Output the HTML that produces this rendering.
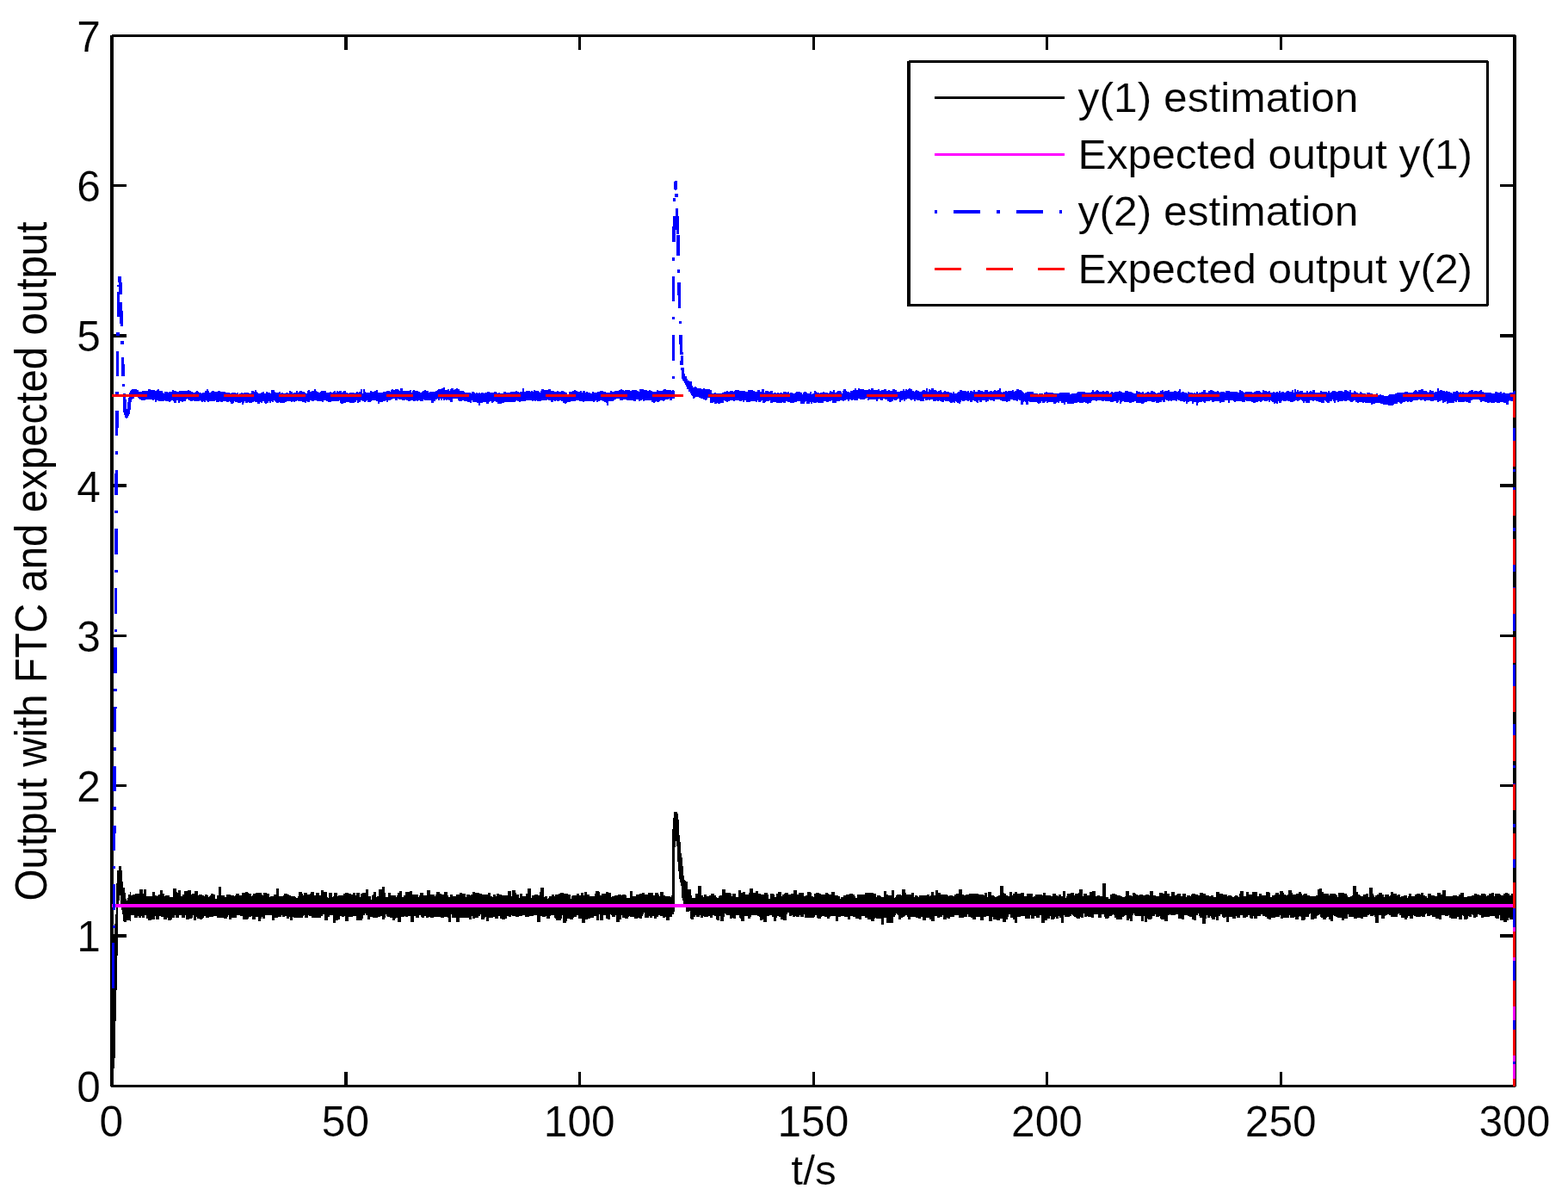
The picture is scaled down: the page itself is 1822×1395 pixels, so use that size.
<!DOCTYPE html>
<html lang="en">
<head>
<meta charset="utf-8">
<title>Output with FTC and expected output</title>
<style>
html,body{margin:0;padding:0;background:#fff;}
body{width:1822px;height:1395px;overflow:hidden;}
svg{display:block;position:absolute;left:0;top:0;}
text{font-family:"Liberation Sans","DejaVu Sans",sans-serif;font-size:49.7px;fill:#000;stroke:#fff;stroke-width:0.2px;}
.yl{stroke:none;}
</style>
</head>
<body>
<svg width="1822" height="1395" viewBox="0 0 1822 1395">
<rect width="1822" height="1395" fill="#fff"/>
<g shape-rendering="crispEdges">
<path fill="#000" d="m128 41h1v1221h-1zm1 0h1v1222h-1zm1-1h2v418h-2zm0 421h1v589h-1zm0 593h1v41h-1zm0 94h2v115h-2zm1-687h1v429h-1zm0 458h1v18h-1zm0 22h1v18h-1zm0 47h1v18h-1zm0 21h1v18h-1zm0 48h1v18h-1zm0 21h1v17h-1zm1-1038h268v3h-268zm0 174h15v3h-15zm0 174h3v4h-3zm0 174h1v4h-1zm0 175h15v3h-15zm0 348h1v10h-1zm0 63h1v93h-1zm0 112h268v3h-268zm1-187h1v2h-1zm0 5h1v151h-1zm1-16h1v124h-1zm1-672h4v2h-4zm0 521h12v3h-12zm0 115h1v24h-1zm0 28h1v96h-1zm1-43h2v39h-2zm0 43h1v56h-1zm1-492h10v4h-10zm0 523h10v4h-10zm1-79h1v40h-1zm1-618h8v4h-8zm0 618h1v34h-1zm1 0h1v44h-1zm1 5h1v39h-1zm0 43h1v3h-1zm1-30h1v26h-1zm0 30h1v8h-1zm1-23h2v19h-2zm0 23h1v16h-1zm1 0h3v17h-3zm1-17h1v13h-1zm1 7h1v6h-1zm1 2h1v4h-1zm0 8h4v15h-4zm1-11h1v7h-1zm1-4h2v11h-2zm2-3h1v14h-1zm0 18h1v16h-1zm1-14h2v10h-2zm0 14h4v9h-4zm2-15h3v11h-3zm2 15h4v12h-4zm1-16h5v12h-5zm3 16h1v10h-1zm1 0h3v12h-3zm1-21h4v17h-4zm2 21h1v10h-1zm1 0h3v12h-3zm1-16h1v12h-1zm1-5h3v17h-3zm1 21h2v9h-2zm2-13h7v9h-7zm0 13h2v13h-2zm2 0h4v15h-4zm4 0h4v14h-4zm1-18h3v14h-3zm3 4h2v10h-2zm0 14h1v10h-1zm1 0h4v14h-4zm1-13h1v9h-1zm1-1h1v10h-1zm1-1h2v11h-2zm1 15h2v10h-2zm1-20h3v16h-3zm1 20h3v11h-3zm2-16h2v12h-2zm1 16h4v14h-4zm1-13h1v9h-1zm1-1h5v10h-5zm2 14h1v12h-1zm1 0h4v15h-4zm2-12h4v8h-4zm2 12h1v14h-1zm1 0h3v12h-3zm1-22h4v18h-4zm2 22h1v9h-1zm1 0h4v12h-4zm1-18h1v14h-1zm1 1h1v13h-1zm1-3h3v16h-3zm1 20h3v9h-3zm2-13h2v9h-2zm1 13h4v12h-4zm1-15h2v11h-2zm2-4h4v15h-4zm1 19h1v9h-1zm1 0h4v14h-4zm2-20h4v16h-4zm2 20h3v13h-3zm2-15h1v11h-1zm1-1h3v12h-3zm0 16h1v12h-1zm1 0h1v9h-1zm1 0h3v15h-3zm1-19h4v15h-4zm2 19h1v11h-1zm1 0h3v13h-3zm1-14h1v10h-1zm1-1h4v11h-4zm1 15h3v14h-3zm3-14h2v10h-2zm0 14h1v13h-1zm1 0h1v12h-1zm1-13h1v9h-1zm0 13h2v10h-2zm1-15h3v11h-3zm1 15h4v12h-4zm2-14h1v10h-1zm1 2h1v8h-1zm1-1h1v9h-1zm0 13h5v11h-5zm1-14h1v10h-1zm1-2h3v12h-3zm3 1h2v11h-2zm0 15h4v10h-4zm2-10h2v6h-2zm2-4h2v10h-2zm0 14h8v12h-8zm2-24h3v20h-3zm3 10h4v10h-4zm3 14h4v13h-4zm1-12h2v8h-2zm2-3h5v11h-5zm1 15h1v11h-1zm1 0h1v9h-1zm1 0h3v14h-3zm2-14h4v10h-4zm1 14h6v12h-6zm3-13h1v9h-1zm1-1h1v10h-1zm1-2h4v12h-4zm1 16h4v9h-4zm3-14h3v10h-3zm1 14h3v10h-3zm2-17h4v13h-4zm1 17h6v14h-6zm3-18h3v14h-3zm3 1h1v13h-1zm0 17h1v13h-1zm1-16h3v12h-3zm0 16h3v11h-3zm3-13h1v9h-1zm0 13h1v10h-1zm1-14h1v10h-1zm0 14h4v14h-4zm1-16h3v12h-3zm3-1h7v13h-7zm0 17h3v11h-3zm3 0h3v16h-3zm3 0h1v13h-1zm1-15h1v11h-1zm0 15h1v11h-1zm1-14h1v10h-1zm0 14h3v13h-3zm1-17h4v13h-4zm2 17h8v9h-8zm2-16h3v12h-3zm3 4h1v8h-1zm1-1h4v9h-4zm2 13h3v15h-3zm2-15h3v11h-3zm1 15h4v12h-4zm2-22h3v18h-3zm2 22h4v11h-4zm1-13h5v9h-5zm3 13h1v9h-1zm1 0h3v11h-3zm1-14h1v10h-1zm1-2h4v12h-4zm1 16h2v10h-2zm2 0h3v13h-3zm1-15h2v11h-2zm2 1h2v10h-2zm0 14h1v11h-1zm1 0h3v15h-3zm1-13h5v9h-5zm2 13h1v11h-1zm1 0h11v12h-11zm2-12h1v8h-1zm1 1h2v7h-2zm2-2h1v9h-1zm1-5h4v14h-4zm4 2h1v12h-1zm1 2h1v10h-1zm0 14h1v10h-1zm1-17h4v13h-4zm0 17h1v9h-1zm1 0h4v12h-4zm3-15h3v11h-3zm1 15h1v9h-1zm1 0h3v10h-3zm1-16h1v12h-1zm1-2h4v14h-4zm1 18h11v12h-11zm3-14h2v10h-2zm2-3h4v13h-4zm4 3h2v10h-2zm2-6h3v16h-3zm0 20h2v10h-2zm2 0h2v8h-2zm1-18h4v14h-4zm1 18h4v15h-4zm3-12h1v8h-1zm1 1h1v7h-1zm0 11h2v11h-2zm1-17h4v13h-4zm1 17h4v9h-4zm3-12h1v8h-1zm1-1h1v9h-1zm0 13h3v18h-3zm1-17h4v13h-4zm2 17h3v15h-3zm2-13h1v9h-1zm1-1h6v10h-6zm0 14h2v14h-2zm2 0h2v10h-2zm2 0h3v11h-3zm2-16h2v12h-2zm1-998h4v18h-4zm0 1014h1v10h-1zm0 191h4v18h-4zm1-208h4v13h-4zm0 17h4v16h-4zm3-1014h268v3h-268zm0 1220h268v3h-268zm1-222h3v12h-3zm0 16h5v11h-5zm3-15h2v11h-2zm2-2h3v13h-3zm0 17h4v10h-4zm3-14h1v10h-1zm1-3h4v13h-4zm0 17h7v15h-7zm4-12h1v8h-1zm1-4h2v12h-2zm2-1h4v13h-4zm0 17h1v13h-1zm1 0h2v9h-2zm2 0h1v7h-1zm1-21h3v17h-3zm0 21h2v9h-2zm2 0h3v14h-3zm1-13h3v9h-3zm2 13h3v11h-3zm1-9h1v5h-1zm1-5h1v10h-1zm1-1h1v11h-1zm0 15h6v12h-6zm1-18h3v14h-3zm3 6h1v8h-1zm1-1h2v9h-2zm1 13h3v11h-3zm1-21h4v17h-4zm2 21h2v10h-2zm2-24h3v20h-3zm0 24h3v14h-3zm3-17h1v13h-1zm0 17h1v12h-1zm1-12h3v8h-3zm0 12h1v8h-1zm1 0h1v10h-1zm1 0h3v11h-3zm1-17h3v13h-3zm2 17h3v12h-3zm1-14h6v10h-6zm2 14h3v15h-3zm3 0h1v13h-1zm1-12h1v8h-1zm0 12h2v12h-2zm1-14h1v10h-1zm1-3h2v13h-2zm0 17h4v17h-4zm2-19h3v15h-3zm2 19h4v11h-4zm1-12h2v8h-2zm2-2h2v10h-2zm1 14h1v10h-1zm1-18h5v14h-5zm0 18h3v11h-3zm3 0h3v10h-3zm2-19h3v15h-3zm1 19h4v17h-4zm2-15h7v11h-7zm2 15h2v10h-2zm2 0h4v12h-4zm3-12h1v8h-1zm1-2h1v10h-1zm0 14h2v9h-2zm1-17h4v13h-4zm1 17h1v11h-1zm1 0h3v12h-3zm2-14h4v10h-4zm1 14h2v10h-2zm2 0h3v12h-3zm1-20h4v16h-4zm2 20h2v11h-2zm2-15h5v11h-5zm0 15h4v12h-4zm4 0h8v11h-8zm1-13h1v9h-1zm1-2h1v11h-1zm1-3h4v14h-4zm4 2h2v12h-2zm1 16h4v12h-4zm1-15h3v11h-3zm3-3h4v14h-4zm0 18h4v11h-4zm4-14h1v10h-1zm0 14h1v12h-1zm1-12h2v8h-2zm0 12h3v17h-3zm2-15h3v11h-3zm1 15h1v8h-1zm1 0h5v12h-5zm1-13h4v9h-4zm4-2h4v11h-4zm0 15h4v17h-4zm4-17h3v13h-3zm0 17h11v12h-11zm3-16h4v12h-4zm4 4h1v8h-1zm1-3h4v11h-4zm3 15h3v14h-3zm1-14h1v10h-1zm1-1h2v11h-2zm1 15h1v10h-1zm1-18h3v14h-3zm0 18h3v13h-3zm3-17h5v13h-5zm0 17h4v12h-4zm4 0h2v10h-2zm1-16h3v12h-3zm1 16h1v8h-1zm1 0h4v14h-4zm1-15h7v11h-7zm3 15h1v12h-1zm1 0h1v11h-1zm1 0h3v16h-3zm2-17h3v13h-3zm1 17h5v12h-5zm2-13h2v9h-2zm2 1h1v8h-1zm1-3h3v11h-3zm0 15h2v11h-2zm2 0h4v13h-4zm1-13h1v9h-1zm1-3h3v12h-3zm2 16h2v10h-2zm1-15h3v11h-3zm1 15h2v13h-2zm2-14h7v10h-7zm0 14h4v14h-4zm4 0h2v13h-2zm2 0h2v10h-2zm1-19h4v15h-4zm1 19h3v11h-3zm3-13h1v9h-1zm0 13h1v9h-1zm1-20h4v16h-4zm0 20h4v10h-4zm4-17h1v13h-1zm0 17h4v11h-4zm1-15h3v11h-3zm3 4h1v7h-1zm0 11h4v10h-4zm1-16h3v12h-3zm3 3h4v9h-4zm0 13h3v9h-3zm3 0h5v11h-5zm1-16h2v12h-2zm2-6h4v18h-4zm2 22h5v10h-5zm2-11h1v7h-1zm1-3h3v10h-3zm2 14h4v9h-4zm1-15h4v11h-4zm3 15h4v17h-4zm1-14h2v10h-2zm2-4h1v14h-1zm1-5h4v19h-4zm0 23h2v10h-2zm2 0h4v11h-4zm2-12h1v8h-1zm1-1h3v9h-3zm1 13h1v10h-1zm1 0h4v13h-4zm1-10h1v6h-1zm1-1h1v7h-1zm1-2h3v9h-3zm1 13h1v10h-1zm1 0h4v9h-4zm1-15h3v11h-3zm3 2h1v9h-1zm0 13h1v12h-1zm1-15h4v11h-4zm0 15h1v13h-1zm1 0h6v15h-6zm3-16h2v12h-2zm2-1h4v13h-4zm1 17h1v13h-1zm1 0h1v9h-1zm1 0h4v18h-4zm1-16h5v12h-5zm3 16h1v16h-1zm1 0h3v13h-3zm1-15h3v11h-3zm2 15h4v14h-4zm1-10h1v6h-1zm1-3h1v9h-1zm1-1h5v10h-5zm1 14h1v12h-1zm1 0h3v11h-3zm3-16h3v12h-3zm0 16h2v9h-2zm2-1014h3v18h-3zm0 1014h4v13h-4zm0 191h3v18h-3zm1-205h2v10h-2zm2-1000h269v3h-269zm0 997h3v13h-3zm0 223h269v3h-269zm1-206h4v18h-4zm2-14h1v10h-1zm1-4h3v14h-3zm1 18h3v14h-3zm2-15h3v11h-3zm1 15h3v13h-3zm2-13h6v9h-6zm1 13h4v12h-4zm4 0h3v10h-3zm1-16h1v12h-1zm1-3h4v15h-4zm1 19h3v15h-3zm3-18h1v14h-1zm0 18h1v8h-1zm1-14h2v10h-2zm0 14h4v15h-4zm2-16h5v12h-5zm2 16h3v9h-3zm3-18h3v14h-3zm0 18h2v13h-2zm2 0h3v14h-3zm1-17h3v13h-3zm2 17h1v8h-1zm1-12h1v8h-1zm0 12h1v9h-1zm1-13h3v9h-3zm0 13h4v11h-4zm3-14h4v10h-4zm1 14h1v9h-1zm1 0h4v17h-4zm2-15h4v11h-4zm2 15h2v14h-2zm2-14h1v10h-1zm0 14h1v9h-1zm1-15h4v11h-4zm0 15h3v12h-3zm3 0h4v13h-4zm1-14h1v10h-1zm1 3h4v7h-4zm2 11h1v11h-1zm1 0h1v10h-1zm1-19h3v15h-3zm0 19h5v11h-5zm3-13h4v9h-4zm2 13h4v13h-4zm2-15h4v11h-4zm2 15h2v12h-2zm2-16h3v12h-3zm0 16h3v13h-3zm3-17h3v13h-3zm0 17h1v10h-1zm1 0h1v8h-1zm1 0h1v6h-1zm1-15h4v11h-4zm0 15h5v12h-5zm4-17h6v13h-6zm1 17h1v10h-1zm1 0h3v12h-3zm3 0h2v10h-2zm1-14h2v10h-2zm1 14h3v13h-3zm1-17h4v13h-4zm2 17h2v11h-2zm2-15h1v11h-1zm0 15h2v9h-2zm1-13h1v9h-1zm1-5h4v14h-4zm0 18h3v10h-3zm3 0h3v12h-3zm1-14h2v10h-2zm2 1h6v9h-6zm0 13h1v11h-1zm1 0h4v15h-4zm4 0h3v11h-3zm1-12h1v8h-1zm1-2h1v10h-1zm1-77h1v87h-1zm0 91h2v8h-2zm1-104h1v100h-1zm1-7h1v107h-1zm0 111h1v5h-1zm1-111h1v41h-1zm1 0h1v34h-1zm1 0h1v40h-1zm1 2h1v56h-1zm1 7h1v60h-1zm1 18h1v51h-1zm1 8h1v47h-1zm1 13h1v38h-1zm1 5h1v47h-1zm1 10h1v40h-1zm1 11h1v33h-1zm1 5h1v28h-1zm1 1h1v27h-1zm1 1h2v26h-2zm0 30h4v5h-4zm2-21h4v17h-4zm2 21h1v4h-1zm1 0h1v13h-1zm1-14h1v10h-1zm0 14h3v14h-3zm1-11h4v7h-4zm2 11h2v11h-2zm2-16h3v12h-3zm0 16h1v9h-1zm1 0h4v11h-4zm2-25h4v21h-4zm2 25h1v9h-1zm1 0h3v12h-3zm1-14h2v10h-2zm2 2h1v8h-1zm0 12h1v10h-1zm1-15h3v11h-3zm0 15h5v11h-5zm3-13h3v9h-3zm2 13h2v10h-2zm1-14h2v10h-2zm1 14h3v12h-3zm1-16h4v12h-4zm2 16h2v9h-2zm2-14h2v10h-2zm0 14h2v10h-2zm2-12h1v8h-1zm0 12h1v14h-1zm1-11h2v7h-2zm0 11h3v15h-3zm2-13h1v9h-1zm1-1h3v10h-3zm0 14h1v10h-1zm1 0h4v16h-4zm2-21h4v17h-4zm2 21h1v11h-1zm1 0h1v7h-1zm1-17h6v13h-6zm0 17h1v8h-1zm1 0h4v9h-4zm4 0h3v13h-3zm1-16h1v12h-1zm1 3h1v9h-1zm1-3h4v12h-4zm0 16h1v12h-1zm1 0h3v13h-3zm3-12h3v8h-3zm0 12h4v9h-4zm3-20h3v16h-3zm1 20h1v12h-1zm1 0h1v13h-1zm1-17h2v13h-2zm0 17h4v16h-4zm2-18h3v14h-3zm2 18h4v10h-4zm1-15h4v11h-4zm3 15h3v13h-3zm1-17h1v13h-1zm1-5h4v18h-4zm1 22h1v11h-1zm1 0h7v9h-7zm2-17h3v13h-3zm3-2h3v15h-3zm2 19h2v10h-2zm1-16h3v12h-3zm1 16h1v11h-1zm1 0h3v15h-3zm1-15h4v11h-4zm2 15h1v14h-1zm1 0h4v17h-4zm1-17h4v13h-4zm3 17h3v10h-3zm1-15h1v11h-1zm1 5h2v6h-2zm1 10h3v9h-3zm1-16h4v12h-4zm2 16h2v11h-2zm2-15h1v11h-1zm0 15h3v16h-3zm1-12h2v8h-2zm2-4h2v12h-2zm0 16h1v12h-1zm1 0h2v10h-2zm1-18h4v14h-4zm1 18h2v11h-2zm2 0h3v14h-3zm1-13h1v9h-1zm1-2h2v11h-2zm1 15h4v15h-4zm1-16h1v12h-1zm1-1h4v13h-4zm2 17h1v8h-1zm1 0h2v6h-2zm1-15h3v11h-3zm1 15h3v10h-3zm2-16h3v12h-3zm1 16h1v9h-1zm1 0h3v11h-3zm1-20h4v16h-4zm2 20h1v10h-1zm1 0h4v11h-4zm1-15h2v11h-2zm2-2h6v13h-6zm1 17h1v9h-1zm1 0h4v11h-4zm4-13h2v9h-2zm0 13h1v8h-1zm1 0h11v12h-11zm1-14h2v10h-2zm2-4h4v14h-4zm4 1h1v13h-1zm1 4h2v9h-2zm1-1001h3v18h-3zm0 1205h3v18h-3zm1-203h1v8h-1zm1-4h2v12h-2zm0 16h1v11h-1zm1-1014h268v3h-268zm0 1014h2v9h-2zm0 206h268v3h-268zm1-223h4v13h-4zm1 17h1v12h-1zm1 0h4v13h-4zm2-16h2v12h-2zm2 1h5v11h-5zm0 15h1v11h-1zm1 0h3v10h-3zm3 0h3v11h-3zm1-17h3v13h-3zm2 17h3v13h-3zm1-16h1v12h-1zm1 1h3v11h-3zm1 15h1v11h-1zm1 0h6v10h-6zm1-18h4v14h-4zm4 4h4v10h-4zm1 14h3v16h-3zm3-13h2v9h-2zm0 13h3v11h-3zm2-10h1v6h-1zm1-2h3v8h-3zm0 12h4v10h-4zm3-14h3v10h-3zm1 14h4v11h-4zm2-15h4v11h-4zm2 15h3v14h-3zm2-16h4v12h-4zm1 16h3v10h-3zm3-15h2v11h-2zm0 15h3v11h-3zm2-13h1v9h-1zm1 2h2v7h-2zm0 11h4v13h-4zm2-15h9v11h-9zm2 15h3v14h-3zm3 0h4v10h-4zm4-17h10v13h-10zm0 17h3v12h-3zm3 0h4v14h-4zm4 0h4v16h-4zm3-16h3v12h-3zm1 16h1v13h-1zm1 0h1v12h-1zm1-12h1v8h-1zm0 12h6v13h-6zm1-14h4v10h-4zm4 1h1v9h-1zm1 1h3v8h-3zm0 12h3v20h-3zm3-19h3v15h-3zm0 19h3v12h-3zm3-15h2v11h-2zm0 15h8v18h-8zm2-14h4v10h-4zm4-6h3v16h-3zm2 20h2v11h-2zm1-11h1v7h-1zm1-1h1v8h-1zm0 12h1v9h-1zm1-14h1v10h-1zm0 14h1v7h-1zm1-15h5v11h-5zm0 15h1v8h-1zm1 0h1v9h-1zm1 0h3v14h-3zm3-14h1v10h-1zm0 14h2v12h-2zm1-21h4v17h-4zm1 21h2v11h-2zm2 0h1v10h-1zm1-17h1v13h-1zm0 17h2v9h-2zm1-15h6v11h-6zm1-968h2v285h-2zm0 983h1v11h-1zm1 0h3v14h-3zm1-984h2v286h-2zm2 0h669v3h-669zm0 283h669v3h-669zm0 701h6v11h-6zm1-17h3v13h-3zm3 5h1v8h-1zm1-2h3v10h-3zm1 14h3v12h-3zm2-13h1v9h-1zm1 1h1v8h-1zm0 12h3v13h-3zm1-14h9v10h-9zm2 14h2v11h-2zm2 0h4v15h-4zm4 0h4v12h-4zm1-15h3v11h-3zm3 2h1v9h-1zm0 13h2v14h-2zm1-14h1v10h-1zm1-4h3v14h-3zm0 18h4v16h-4zm3-14h2v10h-2zm1-928h151v3h-151zm0 942h3v10h-3zm1-20h3v16h-3zm2 20h3v12h-3zm1-17h3v13h-3zm2 17h3v11h-3zm1-15h8v11h-8zm2 15h1v9h-1zm1 0h4v14h-4zm4 0h1v12h-1zm1-14h1v10h-1zm0 14h3v13h-3zm1-13h1v9h-1zm1-1h4v10h-4zm1 14h5v11h-5zm3-13h2v9h-2zm2-2h2v11h-2zm0 15h5v9h-5zm2-16h3v12h-3zm3-5h4v17h-4zm0 21h6v12h-6zm4-15h2v11h-2zm2 1h2v10h-2zm0 14h4v11h-4zm2-15h4v11h-4zm2 15h1v8h-1zm1 0h3v11h-3zm1-16h11v12h-11zm2 16h2v12h-2zm2 0h4v14h-4zm4 0h5v11h-5zm3-15h6v11h-6zm2 15h4v15h-4zm4-14h1v10h-1zm0 14h3v11h-3zm1-17h3v13h-3zm2 17h3v10h-3zm1-12h1v8h-1zm1-6h4v14h-4zm1 18h4v16h-4zm3-14h3v10h-3zm1 14h1v11h-1zm1 0h4v14h-4zm1-13h1v9h-1zm1 1h2v8h-2zm2-1h2v9h-2zm0 13h4v15h-4zm2-14h2v10h-2zm2-11h4v21h-4zm0 25h3v13h-3zm3 0h4v17h-4zm1-17h1v13h-1zm1 1h2v12h-2zm2 2h2v10h-2zm0 14h2v14h-2zm2-13h2v9h-2zm0 13h1v11h-1zm1 0h2v8h-2zm1-18h3v14h-3zm1 18h3v12h-3zm2-14h1v10h-1zm1-2h2v12h-2zm0 16h2v14h-2zm2-18h3v14h-3zm0 18h3v18h-3zm3-16h4v12h-4zm0 16h4v11h-4zm4-17h4v13h-4zm0 17h5v10h-5zm4-13h3v9h-3zm1 13h6v13h-6zm2-16h7v12h-7zm4 16h1v9h-1zm1 0h4v13h-4zm2-12h1v8h-1zm1-1h2v9h-2zm1 13h2v10h-2zm1-15h8v11h-8zm1 15h4v12h-4zm4 0h2v9h-2zm2 0h4v18h-4zm1-14h1v10h-1zm1-3h3v13h-3zm2 17h3v15h-3zm1-1014h3v18h-3zm0 1000h6v10h-6zm0 205h3v18h-3zm2-191h3v13h-3zm1-1014h269v3h-269zm0 1220h269v3h-269zm2-206h1v10h-1zm1-13h2v9h-2zm0 13h4v14h-4zm2-16h4v12h-4zm2 16h1v13h-1zm1 0h1v11h-1zm1-14h2v10h-2zm0 14h3v13h-3zm2-13h1v9h-1zm1-2h3v11h-3zm0 15h1v10h-1zm1 0h2v12h-2zm2-13h2v9h-2zm0 13h3v18h-3zm2-19h3v15h-3zm1 19h1v9h-1zm1 0h6v11h-6zm1-11h1v7h-1zm1-2h1v9h-1zm1-3h4v12h-4zm3 16h2v10h-2zm1-17h4v13h-4zm1 17h1v8h-1zm1 0h1v9h-1zm1 0h1v10h-1zm1-14h1v10h-1zm0 14h2v11h-2zm1-16h4v12h-4zm1 16h1v12h-1zm1 0h4v13h-4zm2-17h1v13h-1zm1-4h4v17h-4zm1 21h1v11h-1zm1 0h3v12h-3zm2-13h1v9h-1zm1-3h4v12h-4zm0 16h1v7h-1zm1 0h3v11h-3zm3-14h3v10h-3zm0 14h1v10h-1zm1 0h4v11h-4zm2-18h3v14h-3zm2 18h3v12h-3zm1-19h4v15h-4zm2 19h5v8h-5zm2-13h2v9h-2zm2-1h3v10h-3zm1 14h4v12h-4zm2-13h3v9h-3zm2 13h3v8h-3zm1-28h4v24h-4zm2 28h1v11h-1zm1 0h4v13h-4zm1-12h3v8h-3zm3 2h2v6h-2zm0 10h1v12h-1zm1 0h3v10h-3zm1-15h2v11h-2zm2-1h4v12h-4zm0 16h1v9h-1zm1 0h1v8h-1zm1 0h1v9h-1zm1 0h2v12h-2zm1-15h2v11h-2zm1 15h7v14h-7zm1-14h4v10h-4zm4 1h2v9h-2zm2 1h3v8h-3zm0 12h2v11h-2zm2 0h1v10h-1zm1-13h1v9h-1zm0 13h2v9h-2zm1-19h4v15h-4zm1 19h3v15h-3zm3-14h3v10h-3zm0 14h1v13h-1zm1 0h3v16h-3zm2-13h1v9h-1zm1-4h3v13h-3zm0 17h1v9h-1zm1 0h1v7h-1zm1 0h1v9h-1zm1-16h1v12h-1zm0 16h7v10h-7zm1-15h2v11h-2zm2 1h2v10h-2zm2-1h4v11h-4zm2 15h3v16h-3zm2-14h3v10h-3zm1 14h1v10h-1zm1 0h3v17h-3zm1-15h4v11h-4zm2 15h1v13h-1zm1 0h4v14h-4zm1-14h1v10h-1zm1-5h4v15h-4zm2 19h1v13h-1zm1 0h3v10h-3zm1-14h3v10h-3zm2 14h1v8h-1zm1-13h4v9h-4zm0 13h4v11h-4zm4-17h4v13h-4zm0 17h1v10h-1zm1 0h1v13h-1zm1 0h4v14h-4zm2-16h2v12h-2zm2-3h3v15h-3zm0 19h4v16h-4zm3-16h3v12h-3zm1 16h2v9h-2zm2-13h2v9h-2zm0 13h1v8h-1zm1 0h6v9h-6zm1-18h4v14h-4zm4 4h2v10h-2zm1 14h3v8h-3zm1-15h1v11h-1zm1-1h4v12h-4zm1 16h4v13h-4zm3-13h2v9h-2zm1 13h3v14h-3zm1-16h4v12h-4zm2 16h4v9h-4zm2-12h1v8h-1zm1-2h4v10h-4zm1 14h2v10h-2zm2 0h3v11h-3zm1-13h1v9h-1zm1-2h1v11h-1zm1-1h4v12h-4zm0 16h2v14h-2zm2 0h3v15h-3zm2-15h3v11h-3zm1 15h2v9h-2zm2-14h2v10h-2zm0 14h1v7h-1zm1 0h1v10h-1zm1-17h4v13h-4zm0 17h3v12h-3zm3 0h4v19h-4zm1-16h3v12h-3zm3 2h4v10h-4zm0 14h1v13h-1zm1 0h1v9h-1zm1 0h3v12h-3zm2-13h2v9h-2zm1 13h1v10h-1zm1-14h3v10h-3zm0 14h1v12h-1zm1 0h4v14h-4zm2-12h3v8h-3zm2 12h1v11h-1zm1-18h4v14h-4zm0 18h3v15h-3zm3 0h2v10h-2zm1-16h4v12h-4zm1 16h2v8h-2zm2 0h1v11h-1zm1-15h5v11h-5zm0 15h3v12h-3zm3 0h1v11h-1zm1 0h3v17h-3zm1-13h1v9h-1zm1-1h4v10h-4zm1 14h4v11h-4zm3-13h1v9h-1zm1 1h2v8h-2zm0 12h4v13h-4zm2-13h1v9h-1zm1-1h3v10h-3zm1 14h1v10h-1zm1 0h4v12h-4zm1-13h1v9h-1zm1 1h1v8h-1zm1-4h1v12h-1zm1-3h4v15h-4zm0 19h3v9h-3zm3 0h4v12h-4zm1-13h3v9h-3zm3-5h3v14h-3zm0 18h2v11h-2zm2 0h2v9h-2zm1-15h4v11h-4zm1 15h1v12h-1zm1 0h3v13h-3zm2-18h6v14h-6zm1 18h1v10h-1zm1 0h4v13h-4zm4-13h2v9h-2zm0 13h4v10h-4zm2-16h3v12h-3zm2 16h2v8h-2zm1-14h5v10h-5zm1 14h3v10h-3zm3 0h2v11h-2zm1-18h4v14h-4zm1 18h2v13h-2zm2 0h3v14h-3zm1-17h1v13h-1zm1 5h2v8h-2zm1 12h5v12h-5zm1-14h3v10h-3zm3-1h1v11h-1zm1-2h4v13h-4zm0 17h5v11h-5zm4-15h1v11h-1zm1-999h3v18h-3zm0 995h4v15h-4zm0 19h1v9h-1zm0 191h3v18h-3zm1-191h3v13h-3zm2-1014h268v3h-268zm0 1220h268v3h-268zm1-223h1v13h-1zm0 17h7v12h-7zm1-15h2v11h-2zm2 1h2v10h-2zm2-1h1v11h-1zm1-5h4v16h-4zm1 20h1v9h-1zm1 0h5v12h-5zm2-17h1v13h-1zm1 2h4v11h-4zm2 15h1v11h-1zm1 0h4v14h-4zm1-16h3v12h-3zm3-2h3v14h-3zm0 18h1v11h-1zm1 0h1v10h-1zm1 0h1v11h-1zm1-16h1v12h-1zm0 16h4v15h-4zm1-14h1v10h-1zm1-1h1v11h-1zm1-1h4v12h-4zm1 16h1v14h-1zm1 0h4v11h-4zm2-14h3v10h-3zm2 14h1v8h-1zm1-13h7v9h-7zm0 13h1v7h-1zm1 0h4v14h-4zm4 0h3v13h-3zm2-14h2v10h-2zm1 14h1v10h-1zm1-21h2v17h-2zm0 21h2v9h-2zm2-22h3v18h-3zm0 22h1v8h-1zm1 0h1v11h-1zm1 0h2v12h-2zm1-18h2v14h-2zm1 18h4v14h-4zm1-16h6v12h-6zm3 16h1v12h-1zm1 0h2v11h-2zm2-14h1v10h-1zm0 14h2v14h-2zm1-16h7v12h-7zm1 16h3v16h-3zm3 0h1v9h-1zm1 0h2v10h-2zm2-15h1v11h-1zm0 15h2v11h-2zm1-14h1v10h-1zm1 2h1v8h-1zm0 12h5v12h-5zm1-17h7v13h-7zm4 17h3v15h-3zm3-16h3v12h-3zm0 16h4v13h-4zm3-14h1v10h-1zm1 2h3v8h-3zm0 12h1v8h-1zm1 0h6v11h-6zm2-13h2v9h-2zm2-1h1v10h-1zm1-11h4v21h-4zm1 25h4v13h-4zm3-18h2v14h-2zm1 18h4v12h-4zm1-15h2v11h-2zm2 1h1v10h-1zm1 1h3v9h-3zm0 13h3v13h-3zm3-15h3v11h-3zm0 15h5v11h-5zm3-16h3v12h-3zm2 16h2v9h-2zm1-12h1v8h-1zm1-11h4v19h-4zm0 23h1v8h-1zm1 0h4v10h-4zm3-16h1v12h-1zm1 2h1v10h-1zm0 14h1v9h-1zm1-12h1v8h-1zm0 12h1v11h-1zm1-14h2v10h-2zm0 14h4v18h-4zm2-15h2v11h-2zm2-2h4v13h-4zm0 17h3v9h-3zm3 0h4v13h-4zm1-15h2v11h-2zm2 3h1v8h-1zm1-3h5v11h-5zm0 15h1v10h-1zm1 0h2v9h-2zm2 0h2v8h-2zm2-13h1v9h-1zm0 13h2v9h-2zm1-14h1v10h-1zm1-4h3v14h-3zm0 18h8v11h-8zm3-16h4v12h-4zm4 2h1v10h-1zm1-1h3v11h-3zm0 15h1v8h-1zm1 0h1v7h-1zm1 0h2v9h-2zm1-12h1v8h-1zm1-1h3v9h-3zm0 13h4v12h-4zm3-14h4v10h-4zm1 14h3v14h-3zm3-11h1v7h-1zm0 11h1v12h-1zm1-13h1v9h-1zm0 13h2v10h-2zm1-16h3v12h-3zm1 16h4v13h-4zm2-13h4v9h-4zm2 13h1v9h-1zm1 0h2v10h-2zm1-15h2v11h-2zm1 15h6v11h-6zm1-16h4v12h-4zm4 1h1v11h-1zm1-2h3v13h-3zm0 17h1v10h-1zm1 0h4v11h-4zm2-14h2v10h-2zm2 1h2v9h-2zm0 13h1v8h-1zm1 0h1v7h-1zm1-11h1v7h-1zm0 11h4v10h-4zm1-16h4v12h-4zm3 16h2v9h-2zm1-14h4v10h-4zm1 14h4v11h-4zm3-13h3v9h-3zm1 13h4v13h-4zm2-17h4v13h-4zm2 17h3v14h-3zm2-15h2v11h-2zm1 15h4v9h-4zm1-20h4v16h-4zm3 20h4v10h-4zm1-13h8v9h-8zm3 13h1v9h-1zm1 0h2v12h-2zm2 0h7v13h-7zm2-14h5v10h-5zm5 1h2v9h-2zm0 13h2v11h-2zm2-15h2v11h-2zm0 15h4v14h-4zm2-17h4v13h-4zm2 17h1v9h-1zm1 0h1v10h-1zm1-12h4v8h-4zm0 12h4v14h-4zm4-13h5v9h-5zm0 13h1v13h-1zm1 0h1v10h-1zm1 0h3v11h-3zm3-14h3v10h-3zm0 14h1v8h-1zm1 0h1v9h-1zm1 0h3v12h-3zm1-16h3v12h-3zm2 16h2v11h-2zm1-15h3v11h-3zm1 15h2v8h-2zm2-14h2v10h-2zm0 14h2v9h-2zm2-16h5v12h-5zm0 16h3v12h-3zm3 0h7v11h-7zm2-15h1v11h-1zm1-969h2v286h-2zm0 971h1v9h-1zm1-1h2v10h-2zm1-969h1v284h-1zm1 967h3v12h-3zm1 16h6v10h-6zm2-17h3v13h-3zm3 4h1v9h-1zm1-3h6v12h-6zm0 16h1v12h-1zm1 0h4v13h-4zm4 0h1v9h-1zm1-840h15v3h-15zm0 174h15v4h-15zm0 174h15v4h-15zm0 175h15v3h-15zm0 174h15v3h-15zm0 128h1v11h-1zm0 15h4v15h-4zm0 31h15v4h-15zm1-45h3v10h-3zm3-2h2v12h-2zm0 16h4v17h-4zm2-17h3v13h-3zm2 17h2v15h-2zm1-16h2v12h-2zm1 16h1v12h-1zm1-14h2v10h-2zm0 14h4v14h-4zm2-16h2v12h-2zm2-998h1v415h-1zm0 445h3v12h-3zm0 57h3v3h-3zm0 6h3v18h-3zm0 51h3v14h-3zm0 18h3v9h-3zm0 47h3v18h-3zm0 69h3v7h-3zm0 37h3v2h-3zm0 57h3v14h-3zm0 57h3v5h-3zm0 8h3v18h-3zm0 49h3v16h-3zm0 20h3v7h-3zm0 47h3v17h-3zm0 254h3v1h-3zm1-1222h2v414h-2zm2 1h1v1221h-1z"/>
<path fill="#f0f" d="m130 1050h1v4h-1zm4 0h1624v4h-1624zm952-872h151v3h-151zm672 899h3v5h-3zm0 35h3v4h-3zm0 57h3v16h-3zm0 57h3v7h-3zm0 10h3v17h-3z"/>
<path fill="#00f" d="m130 1095h3v53h-3zm1-205h4v29h-4zm0 47h4v4h-4zm0 22h3v29h-3zm0 47h3v3h-3zm0 21h3v30h-3zm0 48h3v3h-3zm1-323h4v30h-4zm0 48h4v3h-4zm0 21h3v29h-3zm0 47h3v4h-3zm1-318h1v25h-1zm0 43h4v3h-4zm0 21h4v30h-4zm0 48h4v3h-4zm0 21h3v30h-3zm0 48h3v3h-3zm1-276h4v3h-4zm0 22h3v29h-3zm0 47h3v4h-3zm0 22h3v29h-3zm0 413h1v9h-1zm1-573h4v4h-4zm0 22h3v29h-3zm0 413h1v2h-1zm1-490h2v2h-2zm0 8h2v29h-2zm1-18h1v7h-1zm0 156h1v20h-1zm1-156h1v47h-1zm1 0h2v21h-2zm0 30h1v25h-1zm1 0h2v28h-2zm0 45h4v4h-4zm1-68h1v14h-1zm0 87h3v22h-3zm1-54h1v18h-1zm0 85h3v3h-3zm1 11h3v1h-3zm0 4h1v18h-1zm1-38h1v14h-1zm0 38h1v21h-1zm1 0h1v24h-1zm1 3h1v22h-1zm1 11h1v11h-1zm1-8h1v18h-1zm1-5h1v21h-1zm1-6h1v2h-1zm0 5h1v20h-1zm1-7h1v4h-1zm0 7h1v15h-1zm1-8h1v5h-1zm0 8h1v6h-1zm1-9h6v6h-6zm0 9h1v3h-1zm1 0h2v2h-2zm5-8h2v5h-2zm1 8h1v1h-1zm1-6h4v3h-4zm0 6h1v2h-1zm1 0h2v3h-2zm2 0h5v4h-5zm1-7h6v4h-6zm4 7h2v3h-2zm2-7h1v10h-1zm1-2h3v12h-3zm3 1h2v11h-2zm2 0h2v12h-2zm2 0h1v11h-1zm1 1h2v13h-2zm2-1h1v12h-1zm1-1h1v13h-1zm1 0h1v14h-1zm1 2h4v12h-4zm4 2h1v10h-1zm1 1h1v9h-1zm1-2h1v10h-1zm1 0h3v11h-3zm3 1h1v10h-1zm1-1h2v12h-2zm2 0h1v11h-1zm1 0h1v10h-1zm1-2h2v5h-2zm0 8h1v4h-1zm1 0h1v5h-1zm1-7h3v4h-3zm0 7h3v7h-3zm3-6h3v3h-3zm0 6h2v4h-2zm2 0h2v7h-2zm1-7h10v4h-10zm1 7h2v5h-2zm2 0h2v6h-2zm2 0h3v5h-3zm3 0h1v3h-1zm1 0h1v2h-1zm1-8h2v5h-2zm0 8h1v3h-1zm1 0h2v4h-2zm1-7h2v4h-2zm1 7h3v5h-3zm1-6h2v3h-2zm2 1h3v2h-3zm0 5h1v4h-1zm1 0h6v5h-6zm2-6h1v3h-1zm1-1h2v4h-2zm2 1h1v3h-1zm1 1h1v10h-1zm1 0h1v9h-1zm1 0h1v10h-1zm1 1h1v10h-1zm1-1h1v11h-1zm1 0h1v10h-1zm1 0h1v11h-1zm1-2h1v13h-1zm1 0h1v11h-1zm1-2h1v14h-1zm1 0h1v15h-1zm1 2h1v13h-1zm1 2h2v10h-2zm2-1h1v11h-1zm1-1h3v12h-3zm3 1h1v11h-1zm1 0h1v10h-1zm1 0h2v12h-2zm2-1h2v13h-2zm2 0h1v12h-1zm1 1h3v12h-3zm3 0h1v11h-1zm1 0h2v3h-2zm0 6h3v5h-3zm2-5h5v2h-5zm1 5h3v6h-3zm3 0h1v5h-1zm1-4h2v1h-2zm0 4h1v6h-1zm1 0h3v8h-3zm1-5h5v2h-5zm2 5h1v7h-1zm1 0h1v5h-1zm1 0h3v6h-3zm1-4h1v1h-1zm1-1h2v2h-2zm1 5h4v7h-4zm2-4h2v1h-2zm2-1h2v2h-2zm0 5h1v6h-1zm1 0h2v9h-2zm1-4h1v1h-1zm1-1h6v2h-6zm0 5h1v7h-1zm1 0h1v5h-1zm1 0h3v7h-3zm3 0h1v6h-1zm1-4h3v1h-3zm0 4h4v7h-4zm3-7h3v4h-3zm1 7h2v6h-2zm2-6h1v11h-1zm1-2h2v14h-2zm2 2h1v12h-1zm1 1h1v13h-1zm1 1h2v12h-2zm2 0h1v10h-1zm1-1h2v12h-2zm2-1h2v11h-2zm2 2h1v11h-1zm1 0h1v12h-1zm1-2h1v14h-1zm1 0h1v13h-1zm1 1h1v12h-1zm1 0h1v10h-1zm1 0h1v12h-1zm1 1h1v11h-1zm1-4h1v13h-1zm1 0h2v14h-2zm2 0h1v12h-1zm1 2h1v11h-1zm1 1h1v11h-1zm1 0h3v12h-3zm3-1h2v3h-2zm0 6h1v6h-1zm1 0h6v7h-6zm1-4h1v1h-1zm1-1h2v2h-2zm2 1h3v1h-3zm2 4h2v6h-2zm1-5h3v2h-3zm1 5h5v5h-5zm2-4h1v1h-1zm1-3h2v4h-2zm2 1h2v3h-2zm0 6h2v6h-2zm2-4h1v1h-1zm0 4h1v5h-1zm1-5h3v2h-3zm0 5h2v6h-2zm2 0h2v5h-2zm1-7h2v4h-2zm1 7h1v4h-1zm1-5h1v2h-1zm0 5h5v5h-5zm1-6h1v3h-1zm1-1h3v4h-3zm3 1h3v3h-3zm0 6h3v6h-3zm3-5h1v2h-1zm0 5h1v7h-1zm1-4h1v11h-1zm1 0h1v9h-1zm1-3h1v13h-1zm1-1h2v14h-2zm2 2h2v10h-2zm2-1h3v12h-3zm3-2h2v13h-2zm2 2h1v11h-1zm1 1h2v11h-2zm2 1h2v10h-2zm2-1h1v11h-1zm1-1h1v12h-1zm1 0h2v13h-2zm2 0h3v11h-3zm3 2h2v10h-2zm2 0h2v11h-2zm2-1h1v12h-1zm1 0h1v3h-1zm0 6h1v6h-1zm1-5h2v2h-2zm0 5h9v5h-9zm2-6h1v3h-1zm1-1h2v4h-2zm2 2h1v2h-1zm1-2h2v4h-2zm2 1h1v3h-1zm1-1h3v4h-3zm0 7h1v4h-1zm1 0h1v7h-1zm1 0h3v8h-3zm1-5h1v2h-1zm1-1h1v3h-1zm1-1h3v4h-3zm0 7h3v7h-3zm3-5h2v2h-2zm0 5h4v6h-4zm2-4h2v1h-2zm2-1h6v2h-6zm0 5h6v7h-6zm6-4h1v1h-1zm0 4h2v6h-2zm1-5h1v2h-1zm1-1h2v3h-2zm0 6h1v4h-1zm1 0h2v7h-2zm1-5h1v2h-1zm1-1h2v3h-2zm0 6h2v6h-2zm2-9h1v6h-1zm0 9h1v4h-1zm1-9h1v13h-1zm1 5h1v9h-1zm1-5h1v14h-1zm1 0h1v15h-1zm1 3h1v12h-1zm1 1h1v10h-1zm1 0h1v9h-1zm1 0h3v11h-3zm3-2h1v13h-1zm1 0h1v12h-1zm1 1h3v10h-3zm3-1h2v11h-2zm2-1h2v13h-2zm2 3h2v13h-2zm2 0h4v11h-4zm4-1h3v11h-3zm3 0h1v10h-1zm1-1h4v4h-4zm0 7h2v6h-2zm2 0h3v4h-3zm2-6h1v3h-1zm1-2h1v5h-1zm0 8h2v3h-2zm1-9h2v6h-2zm1 9h3v2h-3zm1-8h2v5h-2zm2-1h4v6h-4zm0 9h3v4h-3zm3 0h1v2h-1zm1-8h1v5h-1zm0 8h4v3h-4zm1-7h1v4h-1zm1-3h3v7h-3zm2 10h4v4h-4zm1-7h8v4h-8zm3 7h1v3h-1zm1 0h2v4h-2zm2 0h3v5h-3zm2-8h2v5h-2zm1 8h3v4h-3zm1-5h1v2h-1zm1-2h1v4h-1zm1-1h2v13h-2zm2 1h1v12h-1zm1 0h1v11h-1zm1 0h2v12h-2zm2 1h2v10h-2zm2 1h2v10h-2zm2-1h1v11h-1zm1-1h1v12h-1zm1 0h1v10h-1zm1-1h2v12h-2zm2 1h3v11h-3zm3 2h1v9h-1zm1-1h2v10h-2zm2 0h3v13h-3zm3 0h2v11h-2zm2-1h2v10h-2zm2-1h1v10h-1zm1-1h4v6h-4zm0 9h2v4h-2zm2 0h1v2h-1zm1 0h2v4h-2zm1-10h2v7h-2zm1 10h1v2h-1zm1-11h2v8h-2zm0 11h2v4h-2zm2-8h3v5h-3zm0 8h1v3h-1zm1 0h2v4h-2zm2-9h2v6h-2zm0 9h1v3h-1zm1 0h2v4h-2zm1-7h1v4h-1zm1-2h1v6h-1zm0 9h3v6h-3zm1-10h3v7h-3zm2 10h6v2h-6zm1-8h1v5h-1zm1-1h2v6h-2zm2-1h2v7h-2zm2 1h2v6h-2zm0 9h1v4h-1zm1 0h4v5h-4zm1-7h5v4h-5zm3 7h2v4h-2zm2-6h1v3h-1zm0 6h4v5h-4zm1-5h5v2h-5zm3 5h2v6h-2zm2-5h1v11h-1zm1 0h1v12h-1zm1 1h1v11h-1zm1-2h1v10h-1zm1 0h2v12h-2zm2 1h1v11h-1zm1 1h1v10h-1zm1-1h1v11h-1zm1 0h1v12h-1zm1 1h1v11h-1zm1-1h2v15h-2zm2 1h1v11h-1zm1-1h2v12h-2zm2 0h1v11h-1zm1 1h1v10h-1zm1-1h2v11h-2zm2 0h1v13h-1zm1-1h2v14h-2zm2 0h1v12h-1zm1 1h2v10h-2zm2 0h2v12h-2zm2 0h1v11h-1zm1-1h3v3h-3zm0 6h2v5h-2zm2 0h2v6h-2zm1-5h1v2h-1zm1 1h1v1h-1zm0 4h5v8h-5zm1-5h2v2h-2zm2 1h4v1h-4zm2 4h3v7h-3zm2-6h3v3h-3zm1 6h13v6h-13zm2-5h5v2h-5zm5-1h6v3h-6zm6-1h2v4h-2zm0 7h1v5h-1zm1 0h1v4h-1zm1-6h2v3h-2zm0 6h2v5h-2zm2-5h1v2h-1zm0 5h2v6h-2zm1-6h1v3h-1zm1 0h2v11h-2zm2-4h2v15h-2zm2 4h2v11h-2zm2-1h5v11h-5zm5 1h1v10h-1zm1-1h1v11h-1zm1 0h1v12h-1zm1 1h1v11h-1zm1-2h1v12h-1zm1 0h1v13h-1zm1 1h1v12h-1zm1 0h1v11h-1zm1 0h2v12h-2zm2 1h1v11h-1zm1 1h1v10h-1zm1-2h1v12h-1zm1-2h3v13h-3zm3 1h2v12h-2zm2 0h3v5h-3zm0 8h2v4h-2zm2 0h1v3h-1zm1-9h3v6h-3zm0 9h3v4h-3zm3-7h4v4h-4zm0 7h3v6h-3zm3 0h1v4h-1zm1-6h3v3h-3zm0 6h2v5h-2zm2 0h1v4h-1zm1-7h2v4h-2zm0 7h3v5h-3zm2-6h3v3h-3zm1 6h2v4h-2zm2-7h3v4h-3zm0 7h2v5h-2zm2 0h2v7h-2zm1-6h2v3h-2zm1 6h2v8h-2zm1-5h2v2h-2zm1 5h1v7h-1zm1 0h4v6h-4zm2-6h4v3h-4zm2 6h6v5h-6zm2-7h2v4h-2zm2-1h2v5h-2zm2 1h2v11h-2zm2 1h2v10h-2zm2 0h1v11h-1zm1-1h2v12h-2zm2 2h1v10h-1zm1-2h2v13h-2zm2 0h1v12h-1zm1 2h1v10h-1zm1-1h2v11h-2zm2 1h3v10h-3zm3 1h2v9h-2zm2-2h1v11h-1zm1 0h1v12h-1zm1 1h1v11h-1zm1 0h1v10h-1zm1 0h1v9h-1zm1 0h1v11h-1zm1-1h1v12h-1zm1 0h2v11h-2zm2-1h1v11h-1zm1 0h3v4h-3zm0 7h2v4h-2zm2 0h2v5h-2zm1-6h3v3h-3zm1 6h2v6h-2zm2-5h5v2h-5zm0 5h1v7h-1zm1 0h2v10h-2zm2 0h6v5h-6zm2-7h2v4h-2zm2 1h3v3h-3zm2 6h1v4h-1zm1-7h5v4h-5zm0 7h2v3h-2zm2 0h4v2h-4zm3-8h2v5h-2zm1 8h4v4h-4zm1-9h2v6h-2zm2 1h2v5h-2zm1 8h4v3h-4zm1-7h1v4h-1zm1-1h3v5h-3zm2 8h1v4h-1zm1-8h3v12h-3zm3 1h2v11h-2zm2-1h2v12h-2zm2 0h3v13h-3zm3 0h1v11h-1zm1 1h2v10h-2zm2 1h1v11h-1zm1-3h1v14h-1zm1 0h2v13h-2zm2 0h1v12h-1zm1 0h1v14h-1zm1 1h1v13h-1zm1 0h3v12h-3zm3 1h2v11h-2zm2-1h2v12h-2zm2 1h1v11h-1zm1 0h1v13h-1zm1 1h5v3h-5zm0 6h1v6h-1zm1 0h2v7h-2zm2 0h1v6h-1zm1 0h1v5h-1zm1-8h2v5h-2zm0 8h3v6h-3zm2-7h5v4h-5zm1 7h1v5h-1zm1 0h3v4h-3zm3-8h1v5h-1zm0 8h2v5h-2zm1-9h3v6h-3zm1 9h1v4h-1zm1 0h4v3h-4zm1-8h6v5h-6zm3 8h1v2h-1zm1 0h3v4h-3zm2-7h1v4h-1zm1-191h1v18h-1zm0 36h3v4h-3zm0 22h3v29h-3zm0 47h3v3h-3zm0 21h3v30h-3zm0 48h3v3h-3zm0 16h2v5h-2zm0 8h3v2h-3zm1-231h3v4h-3zm0 21h3v30h-3zm1-40h1v9h-1zm0 243h1v4h-1zm1-244h2v11h-2zm0 15h4v4h-4zm1 17h1v25h-1zm1-32h1v10h-1zm0 32h2v30h-2zm0 31h4v24h-4zm1 40h3v4h-3zm0 15h1v15h-1zm1-77h1v21h-1zm0 77h3v30h-3zm1 45h3v3h-3zm0 16h1v11h-1zm1 0h3v23h-3zm0 30h1v5h-1zm1-6h3v11h-3zm0 14h1v3h-1zm1 0h1v13h-1zm1-18h1v3h-1zm0 18h1v15h-1zm1 0h1v16h-1zm1 7h1v11h-1zm1 3h1v10h-1zm1 0h1v12h-1zm1 3h1v12h-1zm1 2h1v10h-1zm1 0h1v13h-1zm1 1h1v12h-1zm1 0h1v14h-1zm1 0h1v16h-1zm1 5h1v12h-1zm1 2h2v13h-2zm2-1h1v13h-1zm1 0h1v12h-1zm1 1h1v11h-1zm1 1h2v10h-2zm2 0h2v11h-2zm2 0h1v12h-1zm1 1h2v11h-2zm2-1h2v13h-2zm2 1h2v13h-2zm2 0h1v12h-1zm1 0h1v10h-1zm1 0h2v6h-2zm0 9h2v1h-2zm2-8h2v5h-2zm0 8h4v7h-4zm2-4h3v1h-3zm2 4h1v6h-1zm1-5h2v2h-2zm0 5h3v8h-3zm2-4h7v1h-7zm1 4h1v7h-1zm1 0h3v8h-3zm3 0h4v7h-4zm2-5h2v2h-2zm2-1h3v3h-3zm0 6h1v4h-1zm1 0h2v5h-2zm2-7h2v4h-2zm0 7h2v6h-2zm2-6h2v3h-2zm0 6h2v5h-2zm2-7h4v4h-4zm0 7h4v4h-4zm4-6h1v3h-1zm0 6h2v5h-2zm1-7h1v4h-1zm1-1h5v12h-5zm5 1h3v12h-3zm3 0h1v11h-1zm1 0h2v13h-2zm2 0h1v11h-1zm1 1h1v10h-1zm1 0h2v12h-2zm2-2h3v14h-3zm3 0h3v13h-3zm3 1h2v12h-2zm2 1h1v11h-1zm1 0h2v12h-2zm2-2h1v12h-1zm1 0h2v14h-2zm2 2h2v3h-2zm0 6h1v6h-1zm1 0h1v5h-1zm1-9h3v6h-3zm0 9h1v4h-1zm1 0h3v7h-3zm2-5h1v2h-1zm1-2h4v4h-4zm0 7h1v6h-1zm1 0h4v5h-4zm3-6h2v3h-2zm1 6h1v4h-1zm1-7h3v4h-3zm0 7h3v7h-3zm3-4h1v1h-1zm0 4h4v6h-4zm1-5h3v2h-3zm3 1h1v1h-1zm0 4h7v7h-7zm1-5h2v2h-2zm2 1h1v1h-1zm1-1h3v2h-3zm3 1h1v1h-1zm0 4h1v6h-1zm1-6h4v3h-4zm0 6h3v7h-3zm3 0h2v5h-2zm1-5h1v2h-1zm1-1h2v3h-2zm0 6h3v6h-3zm2-4h1v1h-1zm1-1h3v12h-3zm3 1h2v11h-2zm2 0h1v10h-1zm1-1h1v11h-1zm1-1h1v12h-1zm1 0h4v11h-4zm4 1h2v13h-2zm2 2h1v11h-1zm1-2h1v13h-1zm1-1h1v14h-1zm1 0h1v12h-1zm1 0h1v11h-1zm1 1h1v13h-1zm1 1h3v12h-3zm3-2h1v12h-1zm1 0h1v14h-1zm1 3h1v11h-1zm1-1h1v10h-1zm1 0h1v11h-1zm1-3h1v14h-1zm1 0h1v4h-1zm0 7h2v7h-2zm1-6h1v3h-1zm1 1h3v2h-3zm0 5h1v6h-1zm1 0h7v7h-7zm2-4h1v1h-1zm1-1h3v2h-3zm3-1h2v3h-2zm1 6h3v5h-3zm1-5h4v2h-4zm2 5h3v6h-3zm2-4h1v1h-1zm1-1h1v2h-1zm0 5h3v5h-3zm1-7h2v4h-2zm2 1h2v3h-2zm0 6h1v4h-1zm1 0h5v7h-5zm1-8h2v5h-2zm2 3h2v2h-2zm2-1h1v3h-1zm0 6h4v5h-4zm1-7h4v4h-4zm3 7h2v4h-2zm1-6h1v3h-1zm1 2h1v8h-1zm1-3h1v12h-1zm1-2h1v14h-1zm1 0h2v13h-2zm2 2h1v10h-1zm1 1h1v9h-1zm1 0h2v11h-2zm2 1h1v8h-1zm1-2h1v10h-1zm1 0h2v11h-2zm2-1h1v11h-1zm1 0h1v12h-1zm1-2h2v14h-2zm2 2h2v12h-2zm2-2h2v12h-2zm2 1h5v12h-5zm5 1h1v11h-1zm1 0h2v10h-2zm2 0h2v5h-2zm0 8h1v1h-1zm1 0h2v4h-2zm1-9h2v6h-2zm1 9h8v3h-8zm1-8h1v5h-1zm1-2h3v7h-3zm3 2h5v5h-5zm3 8h2v5h-2zm2-9h2v6h-2zm0 9h1v3h-1zm1 0h1v2h-1zm1-7h2v4h-2zm0 7h1v3h-1zm1 0h3v4h-3zm1-8h3v5h-3zm2 8h2v2h-2zm1-9h3v6h-3zm1 9h3v3h-3zm2-7h2v4h-2zm1 7h2v5h-2zm1-8h2v5h-2zm1 8h3v6h-3zm1-7h3v4h-3zm2 7h2v5h-2zm1-9h3v6h-3zm1 9h1v3h-1zm1 0h3v4h-3zm1-8h2v5h-2zm2 2h1v3h-1zm0 6h1v3h-1zm1-6h2v8h-2zm2 0h1v12h-1zm1-1h1v13h-1zm1 0h2v11h-2zm2-2h1v12h-1zm1 0h1v14h-1zm1 2h1v12h-1zm1-2h2v12h-2zm2 1h1v10h-1zm1-1h1v11h-1zm1-1h1v12h-1zm1 0h1v13h-1zm1 1h2v13h-2zm2 2h2v10h-2zm2 1h1v11h-1zm1-1h1v12h-1zm1-1h1v11h-1zm1 0h1v12h-1zm1 1h2v11h-2zm2 1h1v10h-1zm1 0h2v11h-2zm2-1h1v12h-1zm1-1h3v5h-3zm0 8h2v5h-2zm2 0h1v2h-1zm1-7h1v4h-1zm0 7h3v4h-3zm1-10h2v7h-2zm2 4h1v3h-1zm0 6h1v3h-1zm1-9h2v6h-2zm0 9h2v4h-2zm2-8h1v5h-1zm0 8h3v3h-3zm1-10h3v7h-3zm2 10h4v5h-4zm1-8h3v5h-3zm1-209h3v4h-3zm2 210h1v4h-1zm0 7h1v4h-1zm1-6h1v3h-1zm0 6h2v5h-2zm1-7h2v4h-2zm1 7h1v4h-1zm1-8h2v5h-2zm0 8h2v5h-2zm2-6h1v3h-1zm0 6h3v6h-3zm1-5h1v2h-1zm1-1h1v3h-1zm1-1h2v4h-2zm0 7h1v4h-1zm1 0h5v5h-5zm1-6h4v3h-4zm4 1h1v11h-1zm1 0h2v12h-2zm2 1h1v11h-1zm1-2h1v12h-1zm1-211h31v4h-31zm0 211h1v13h-1zm1 2h1v11h-1zm1 0h1v9h-1zm1 0h1v10h-1zm1-1h1v12h-1zm1-1h1v13h-1zm1 0h1v14h-1zm1-2h1v16h-1zm1 0h1v14h-1zm1 0h1v12h-1zm1 1h3v12h-3zm3 0h2v11h-2zm2 1h1v10h-1zm1-1h2v12h-2zm2 2h1v9h-1zm1-2h3v13h-3zm3 1h1v10h-1zm1-2h1v12h-1zm1 0h1v5h-1zm0 8h2v5h-2zm1-6h3v3h-3zm1 6h1v6h-1zm1 0h2v7h-2zm1-8h3v5h-3zm1 8h1v4h-1zm1 0h3v6h-3zm1-7h3v4h-3zm2 7h4v4h-4zm1-6h2v3h-2zm2-2h4v5h-4zm1 8h2v6h-2zm2 0h2v5h-2zm1-6h2v3h-2zm1 6h1v3h-1zm1-7h3v4h-3zm0 7h4v4h-4zm3-6h1v3h-1zm1-1h1v4h-1zm0 7h2v5h-2zm1-8h2v5h-2zm1 8h6v3h-6zm1-7h2v4h-2zm1-210h4v4h-4zm1 209h2v5h-2zm2-2h2v7h-2zm1 10h2v4h-2zm1-6h1v3h-1zm1 1h1v2h-1zm0 5h4v5h-4zm1-6h3v3h-3zm3-1h1v12h-1zm1 0h1v13h-1zm1 1h1v12h-1zm1-1h3v12h-3zm3 0h2v10h-2zm2-1h1v11h-1zm1 0h1v12h-1zm1 2h1v10h-1zm1-1h2v11h-2zm2-210h31v4h-31zm0 208h2v14h-2zm2 0h1v12h-1zm1 1h2v12h-2zm2 0h1v17h-1zm1 1h1v16h-1zm1 1h1v15h-1zm1 1h1v11h-1zm1 1h1v9h-1zm1-1h1v11h-1zm1 0h1v14h-1zm1-1h2v15h-2zm2 0h1v11h-1zm1 0h1v12h-1zm1 0h4v3h-4zm0 6h8v6h-8zm4-4h5v1h-5zm4 4h1v7h-1zm1 0h2v8h-2zm1-4h5v1h-5zm1 4h2v7h-2zm2 0h1v5h-1zm1 0h3v7h-3zm2-5h2v2h-2zm1 5h1v6h-1zm1-6h2v3h-2zm0 6h1v5h-1zm1 0h2v7h-2zm1-5h7v2h-7zm1 5h6v6h-6zm6-4h4v1h-4zm0 4h3v8h-3zm3 0h1v7h-1zm1-4h1v10h-1zm1 0h2v11h-2zm2-213h3v4h-3zm0 212h2v10h-2zm2 0h3v12h-3zm3 0h2v14h-2zm2 0h2v11h-2zm2 0h3v13h-3zm3 2h2v11h-2zm2-1h3v12h-3zm3 0h3v11h-3zm3-1h1v12h-1zm1-1h2v12h-2zm2 0h3v13h-3zm3 0h4v3h-4zm0 6h2v7h-2zm2 0h2v6h-2zm2-5h7v2h-7zm0 5h2v7h-2zm2 0h2v8h-2zm2 0h3v7h-3zm3-6h1v3h-1zm0 6h1v5h-1zm1-8h2v5h-2zm0 8h4v4h-4zm2-6h2v3h-2zm2-1h1v4h-1zm0 7h2v5h-2zm1-8h2v5h-2zm1 8h5v4h-5zm1-7h1v4h-1zm1 1h4v3h-4zm3 6h3v5h-3zm1-7h2v4h-2zm2 1h2v3h-2zm0 6h1v4h-1zm1 0h6v5h-6zm1-7h3v4h-3zm3 1h1v3h-1zm1 2h1v1h-1zm1-1h1v2h-1zm0 5h2v6h-2zm1-6h1v3h-1zm1 0h1v12h-1zm1 1h1v11h-1zm1 0h1v10h-1zm1-1h2v11h-2zm2 0h2v13h-2zm2 0h1v12h-1zm1-1h1v11h-1zm1 0h1v15h-1zm1 1h1v14h-1zm1 0h1v12h-1zm1 1h2v10h-2zm2 0h1v11h-1zm1-2h4v13h-4zm4 1h1v12h-1zm1 0h3v13h-3zm3 1h2v11h-2zm2 1h1v10h-1zm1 0h2v9h-2zm2-3h1v14h-1zm1 0h1v4h-1zm0 7h5v7h-5zm1-6h3v3h-3zm3 1h2v2h-2zm1 5h3v8h-3zm1-6h2v3h-2zm2 2h2v1h-2zm0 4h1v7h-1zm1 0h3v6h-3zm1-5h2v2h-2zm2-1h2v3h-2zm0 6h5v5h-5zm2-5h2v2h-2zm2-2h3v4h-3zm1 7h4v6h-4zm2-6h2v3h-2zm2 1h1v2h-1zm0 5h1v5h-1zm1-4h2v1h-2zm0 4h4v7h-4zm2-5h3v2h-3zm2 5h3v6h-3zm1-7h2v4h-2zm2-1h2v5h-2zm0 8h1v4h-1zm1 0h1v6h-1zm1-6h1v12h-1zm1-1h1v13h-1zm1 0h1v10h-1zm1 0h2v11h-2zm2-1h2v13h-2zm2 2h1v10h-1zm1 0h2v11h-2zm2 0h2v10h-2zm2-1h2v11h-2zm2 0h1v12h-1zm1 1h1v11h-1zm1 0h1v9h-1zm1-1h1v11h-1zm1-2h1v13h-1zm1 0h1v14h-1zm1 4h1v10h-1zm1-1h2v11h-2zm2 0h1v12h-1zm1 1h1v11h-1zm1 0h1v10h-1zm1 0h1v13h-1zm1 1h1v12h-1zm1-2h1v12h-1zm1 0h1v3h-1zm0 6h1v6h-1zm1-5h4v2h-4zm0 5h3v5h-3zm3 0h2v8h-2zm1-4h1v1h-1zm1-1h2v2h-2zm0 5h3v6h-3zm2-4h1v1h-1zm1-2h2v3h-2zm0 6h2v10h-2zm2-4h1v1h-1zm0 4h1v7h-1zm1-5h3v2h-3zm0 5h4v6h-4zm3-6h2v3h-2zm1 6h1v5h-1zm1-8h3v5h-3zm0 8h1v6h-1zm1 0h2v7h-2zm2-5h3v2h-3zm0 5h5v5h-5zm3-7h2v4h-2zm2-1h3v5h-3zm0 8h2v4h-2zm2 0h3v6h-3zm1-7h2v4h-2zm2 1h3v3h-3zm0 6h6v5h-6zm3-7h2v4h-2zm2 1h1v3h-1zm1 1h1v12h-1zm1-1h1v13h-1zm1 0h4v12h-4zm4 1h1v9h-1zm1-2h3v11h-3zm3 0h2v14h-2zm2 1h4v10h-4zm4 0h1v11h-1zm1 0h2v12h-2zm2 0h2v11h-2zm2 1h2v10h-2zm2-3h2v13h-2zm2 1h1v12h-1zm1 0h1v13h-1zm1 1h1v12h-1zm1 1h1v11h-1zm1 0h1v2h-1zm0 5h1v6h-1zm1-6h8v3h-8zm0 6h1v4h-1zm1 0h6v5h-6zm6 0h2v6h-2zm1-5h2v2h-2zm1 5h3v7h-3zm1-6h2v3h-2zm2-1h5v4h-5zm0 7h3v6h-3zm3 0h2v5h-2zm2-6h1v3h-1zm0 6h2v6h-2zm1-5h2v2h-2zm1 5h1v5h-1zm1-8h2v5h-2zm0 8h2v4h-2zm2-7h3v4h-3zm0 7h4v5h-4zm3-6h2v3h-2zm1 6h1v4h-1zm1-7h2v4h-2zm0 7h2v6h-2zm2-5h1v2h-1zm0 5h1v4h-1zm1-5h1v10h-1zm1 0h1v11h-1zm1-1h1v12h-1zm1 0h1v14h-1zm1 1h1v13h-1zm1 0h1v12h-1zm1-1h2v14h-2zm2 1h1v10h-1zm1-2h2v14h-2zm2 2h1v12h-1zm1-1h1v11h-1zm1 0h1v10h-1zm1 0h1v11h-1zm1 1h2v10h-2zm2-1h1v11h-1zm1-1h1v11h-1zm1 0h2v12h-2zm2 1h1v11h-1zm1 0h2v12h-2zm2-2h2v14h-2zm2 3h1v10h-1zm1-4h1v14h-1zm1 0h1v13h-1zm1 3h1v3h-1zm0 6h1v4h-1zm1-8h2v5h-2zm0 8h2v5h-2zm2-6h1v3h-1zm0 6h2v4h-2zm1-7h4v4h-4zm1 7h1v3h-1zm1 0h1v4h-1zm1 0h1v5h-1zm1-5h4v2h-4zm0 5h2v7h-2zm2 0h1v5h-1zm1 0h5v7h-5zm1-7h2v4h-2zm2 2h1v2h-1zm1-1h1v3h-1zm1-1h2v4h-2zm0 7h3v4h-3zm2-6h1v3h-1zm1-2h3v5h-3zm0 8h2v5h-2zm2 0h2v4h-2zm1-5h6v2h-6zm1 5h3v5h-3zm3 0h3v6h-3zm2-7h2v4h-2zm1 7h4v7h-4zm1-6h5v3h-5zm3 6h1v4h-1zm1 0h1v5h-1zm1-6h1v12h-1zm1 1h1v12h-1zm1-2h2v14h-2zm2 2h2v10h-2zm2-1h1v11h-1zm1-1h1v10h-1zm1 0h1v12h-1zm1 0h2v14h-2zm2 1h2v10h-2zm2 0h1v12h-1zm1-1h1v13h-1zm1 0h4v12h-4zm4 1h1v11h-1zm1 0h1v10h-1zm1-2h3v13h-3zm3 1h2v11h-2zm2 1h1v10h-1zm1-2h1v13h-1zm1 0h1v14h-1zm1 3h3v2h-3zm0 5h2v6h-2zm2 0h1v5h-1zm1-7h2v4h-2zm0 7h2v4h-2zm2-6h1v3h-1zm0 6h2v6h-2zm1-5h2v2h-2zm1 5h2v7h-2zm1-4h2v1h-2zm1 4h4v6h-4zm1-6h2v3h-2zm2 1h1v2h-1zm1 1h4v1h-4zm0 4h2v7h-2zm2 0h1v6h-1zm1 0h7v7h-7zm2-5h4v2h-4zm4 1h3v1h-3zm1 4h2v9h-2zm2 0h3v8h-3zm3 0h3v7h-3zm1-4h2v1h-2zm2 2h2v9h-2zm2-1h1v10h-1zm1 0h1v11h-1zm1 1h2v10h-2zm2 0h1v11h-1zm1 1h5v10h-5zm5-1h1v12h-1zm1-1h5v13h-5zm5 0h1v12h-1zm1 0h1v11h-1zm1-1h2v12h-2zm2-1h1v13h-1zm1 0h2v11h-2zm2 0h1v12h-1zm1 0h2v13h-2zm2 0h1v12h-1zm1 0h2v2h-2zm0 5h3v6h-3zm2-6h4v3h-4zm1 6h2v5h-2zm2 0h2v6h-2zm1-5h6v2h-6zm1 5h1v5h-1zm1 0h3v6h-3zm3 0h1v5h-1zm1-6h1v3h-1zm0 6h6v4h-6zm1-7h1v4h-1zm1-1h2v5h-2zm2 1h1v4h-1zm1 1h1v3h-1zm1-2h3v5h-3zm0 8h2v3h-2zm2 0h3v4h-3zm1-9h3v6h-3zm2 9h1v3h-1zm1-7h4v4h-4zm0 7h1v4h-1zm1 0h2v5h-2zm2 0h5v4h-5zm1-6h1v3h-1zm1 1h1v2h-1zm1-1h1v3h-1zm1-2h2v5h-2zm1 8h4v5h-4zm1-7h3v4h-3zm3 2h1v9h-1zm1-1h3v10h-3zm3-4h2v16h-2zm2 3h1v12h-1zm1-1h1v13h-1zm1 0h2v12h-2zm2 1h2v14h-2zm2 0h1v13h-1zm1 1h1v12h-1zm1-1h1v12h-1zm1 0h1v15h-1zm1 1h1v14h-1zm1 0h2v13h-2zm2 1h2v12h-2zm2 1h1v11h-1zm1-2h2v13h-2zm2 0h1v11h-1zm1 0h1v12h-1zm1-1h1v13h-1zm1 0h1v11h-1zm1 1h1v12h-1zm1 1h1v2h-1zm0 5h7v6h-7zm1-6h2v3h-2zm2 1h1v2h-1zm1-1h2v3h-2zm2 1h5v2h-5zm1 5h1v5h-1zm1 0h3v6h-3zm3-6h1v3h-1zm0 6h3v7h-3zm1-7h2v4h-2zm2-1h3v5h-3zm0 8h2v4h-2zm2 0h8v3h-8zm1-6h1v3h-1zm1-1h4v4h-4zm4 1h1v3h-1zm1-1h2v4h-2zm1 7h1v4h-1zm1-8h2v5h-2zm0 8h2v6h-2zm2-6h2v3h-2zm0 6h3v5h-3zm2-5h2v2h-2zm1 5h1v6h-1zm1-5h2v11h-2zm2 0h3v12h-3zm3 0h1v11h-1zm1 0h1v12h-1zm1 1h4v11h-4zm4-2h2v12h-2zm2 0h1v13h-1zm1 1h3v12h-3zm3-1h2v12h-2zm2 2h1v10h-1zm1-1h1v11h-1zm1 0h2v12h-2zm2 1h1v11h-1zm1 0h3v13h-3zm3 0h1v9h-1zm1-1h1v9h-1zm1 0h3v2h-3zm0 5h3v5h-3zm3-6h1v3h-1zm0 42h3v15h-3zm0 48h3v3h-3zm0 21h3v3h-3zm0 47h3v4h-3zm0 43h3v8h-3zm0 26h3v1h-3zm0 31h3v20h-3zm0 59h3v25h-3zm0 69h3v13h-3zm0 48h3v3h-3zm0 21h3v1h-3zm0 47h3v4h-3zm0 41h3v10h-3zm0 57h3v22h-3zm0 61h3v23h-3zm0 69h3v11h-3zm0 48h3v3h-3zm1-779h2v4h-2z"/>
<path fill="#f00" d="m130 458h41v3h-41zm70 0h31v3h-31zm60 0h35v3h-35zm64 0h31v3h-31zm60 0h36v3h-36zm65 0h31v3h-31zm60 0h36v3h-36zm65 0h31v3h-31zm60 0h35v3h-35zm64 0h31v3h-31zm60 0h36v3h-36zm65 0h31v3h-31zm60 0h35v3h-35zm64 0h31v3h-31zm60 0h36v3h-36zm65 0h31v3h-31zm14-147h31v3h-31zm46 147h36v3h-36zm14-147h31v3h-31zm51 147h31v3h-31zm9-147h31v3h-31zm51 147h35v3h-35zm64 0h31v3h-31zm60 0h36v3h-36zm65 0h31v3h-31zm60 0h35v3h-35zm64 0h31v3h-31zm60 0h36v3h-36zm65 0h31v3h-31zm60 0h3v3h-3zm3 0h3v27h-3zm0 54h3v30h-3zm0 57h3v30h-3zm0 57h3v30h-3zm0 57h3v30h-3zm0 57h3v30h-3zm0 57h3v30h-3zm0 57h3v30h-3zm0 57h3v30h-3zm0 57h3v30h-3zm0 57h3v30h-3zm0 57h3v30h-3zm0 57h3v30h-3zm0 57h3v30h-3zm0 57h3v9h-3z"/>
</g>
<g>
<text transform="translate(129.2 1319.9) scale(1 0.992)" text-anchor="middle">0</text>
<text transform="translate(401.5 1319.9) scale(1 0.992)" text-anchor="middle">50</text>
<text transform="translate(673.2 1319.9) scale(1 0.992)" text-anchor="middle">100</text>
<text transform="translate(944.9 1319.9) scale(1 0.992)" text-anchor="middle">150</text>
<text transform="translate(1216.5 1319.9) scale(1 0.992)" text-anchor="middle">200</text>
<text transform="translate(1488.2 1319.9) scale(1 0.992)" text-anchor="middle">250</text>
<text transform="translate(1759.9 1319.9) scale(1 0.992)" text-anchor="middle">300</text>
<text transform="translate(116.8 1279.6) scale(1 0.992)" text-anchor="end">0</text>
<text transform="translate(116.8 1105.3) scale(1 0.992)" text-anchor="end">1</text>
<text transform="translate(116.8 931.0) scale(1 0.992)" text-anchor="end">2</text>
<text transform="translate(116.8 756.7) scale(1 0.992)" text-anchor="end">3</text>
<text transform="translate(116.8 582.5) scale(1 0.992)" text-anchor="end">4</text>
<text transform="translate(116.8 408.2) scale(1 0.992)" text-anchor="end">5</text>
<text transform="translate(116.8 233.9) scale(1 0.992)" text-anchor="end">6</text>
<text transform="translate(116.8 59.6) scale(1 0.992)" text-anchor="end">7</text>
<text transform="translate(945.6 1375.7) scale(1 0.980)" text-anchor="middle">t/s</text>
<text transform="translate(1252.6 130.0) scale(1 0.975)" text-anchor="start">y(1) estimation</text>
<text transform="translate(1252.6 196.2) scale(1 0.975)" text-anchor="start">Expected output y(1)</text>
<text transform="translate(1252.6 262.4) scale(1 0.975)" text-anchor="start">y(2) estimation</text>
<text transform="translate(1252.6 328.6) scale(1 0.975)" text-anchor="start">Expected output y(2)</text>
<text class="yl" transform="translate(54.3 652) rotate(-90) scale(0.955 1.047)" text-anchor="middle">Output with FTC and expected output</text>
</g>
</svg>
</body>
</html>
